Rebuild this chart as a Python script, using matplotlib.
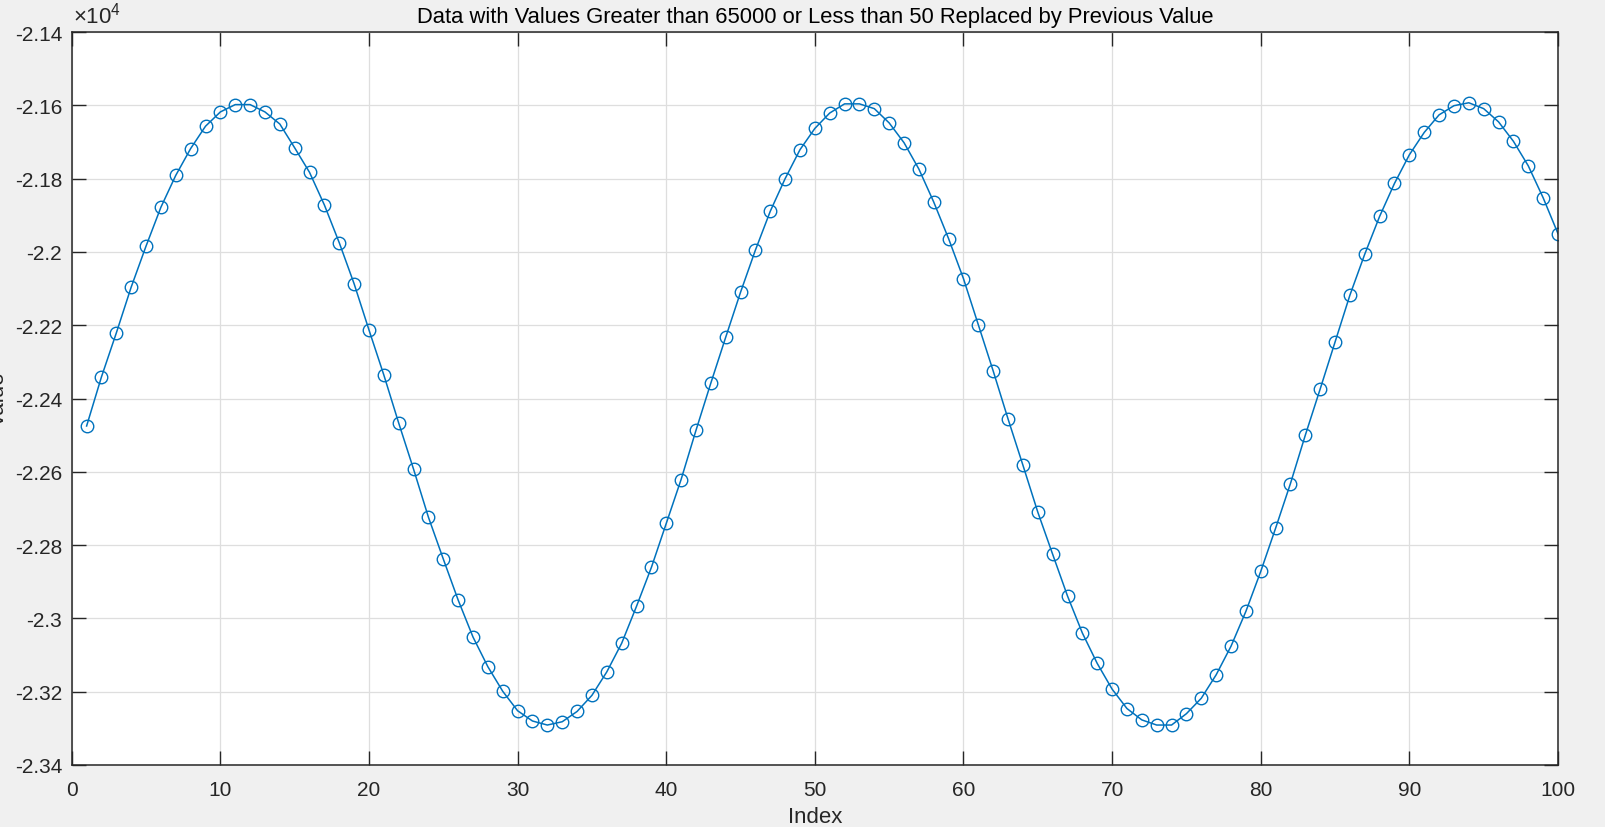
import numpy as np
import matplotlib.pyplot as plt
from matplotlib.ticker import FuncFormatter

# values (index 1..100)
index = np.arange(1, 101)
values = [
    -22475, -22341, -22221, -22096, -21984, -21878, -21791, -21718, -21657, -21618,
    -21598, -21598, -21618, -21651, -21716, -21783, -21872, -21975, -22087, -22213,
    -22336, -22467, -22593, -22724, -22838, -22950, -23051, -23132, -23199, -23252,
    -23280, -23291, -23282, -23254, -23210, -23146, -23068, -22967, -22861, -22741,
    -22621, -22487, -22358, -22233, -22110, -21995, -21889, -21800, -21721, -21663,
    -21621, -21596, -21596, -21609, -21648, -21702, -21774, -21864, -21964, -22073,
    -22199, -22325, -22456, -22582, -22710, -22825, -22939, -23040, -23123, -23193,
    -23246, -23277, -23291, -23291, -23260, -23218, -23154, -23076, -22981, -22872,
    -22754, -22632, -22500, -22374, -22246, -22118, -22006, -21903, -21813, -21735,
    -21674, -21626, -21601, -21593, -21609, -21645, -21698, -21765, -21852, -21950,
]
xticks = np.arange(0, 101, 10)
yticks = np.arange(-23400, -21399, 200)

plt.rcParams['font.family'] = ['Liberation Sans', 'DejaVu Sans']
plt.rcParams['mathtext.fontset'] = 'custom'
plt.rcParams['mathtext.rm'] = 'Liberation Sans'
txt = '#262626'

fig = plt.figure(figsize=(16.05, 8.28), dpi=100, facecolor='#f0f0f0')
ax = fig.add_axes([0.0447, 0.0749, 0.926, 0.8852])
ax.set_facecolor('white')

ax.plot(index, values, color='#0072bd', linewidth=1.1, marker='o',
        markersize=9, markerfacecolor='none', markeredgewidth=1.0)

ax.set_xlim(0, 100)
ax.set_ylim(-23400, -21400)
ax.set_xticks(xticks)
ax.set_yticks(yticks)
ax.yaxis.set_major_formatter(FuncFormatter(lambda v, p: f'{v / 1e4:g}'))
ax.grid(True, color='#dedede', linewidth=0.9)
ax.set_axisbelow(True)
ax.tick_params(direction='in', length=10, width=1, colors='#262626',
               labelsize=15, top=True, right=True)
ax.tick_params(axis='x', pad=11)
ax.tick_params(axis='y', pad=7)
for s in ax.spines.values():
    s.set_color('#262626')
    s.set_linewidth(1.1)

# exponent label, MATLAB style
ax.text(0.001, 1.006, '\u00d710$^{\\mathregular{4}}$', transform=ax.transAxes,
        fontsize=16, color=txt, ha='left', va='bottom')

ax.set_title('Data with Values Greater than 65000 or Less than 50 Replaced by Previous Value',
             fontsize=15.8, color='black', pad=7)
ax.set_xlabel('Index', fontsize=16, color=txt, labelpad=5)
ax.set_ylabel('Value', fontsize=16, color=txt, labelpad=4)

fig.savefig('out.png', dpi=100, facecolor=fig.get_facecolor())
